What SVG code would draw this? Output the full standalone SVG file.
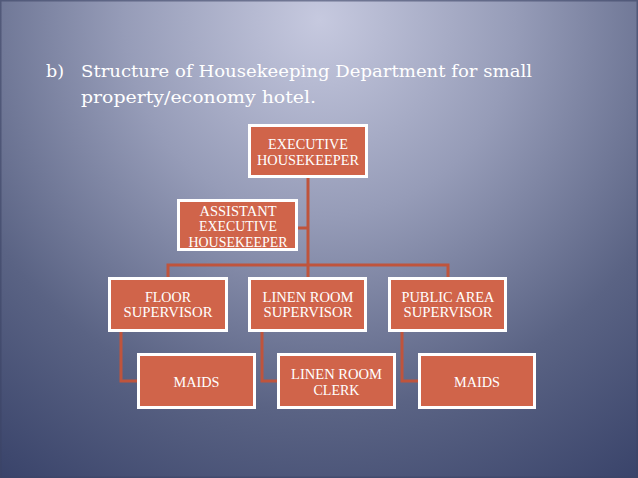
<svg xmlns="http://www.w3.org/2000/svg" width="638" height="478" viewBox="0 0 638 478">
  <defs>
    <radialGradient id="bg" cx="320" cy="20" r="560" gradientUnits="userSpaceOnUse">
      <stop offset="0" stop-color="#c6c9df"/>
      <stop offset="0.35" stop-color="#969cb8"/>
      <stop offset="0.7" stop-color="#5a6384"/>
      <stop offset="1" stop-color="#39436a"/>
    </radialGradient>
    <style>
      .box { fill: #d0644a; stroke: #ffffff; stroke-width: 3; }
      .lbl { font-family: "Liberation Serif", serif; font-size: 15px; fill: #ffffff; text-anchor: middle; }
      .conn { fill: none; stroke: #bf543c; stroke-width: 3; }
      .title { font-family: "DejaVu Serif", serif; font-size: 17.5px; fill: #ffffff; }
    </style>
  </defs>
  <rect x="0" y="0" width="638" height="478" fill="url(#bg)"/>
  <rect x="0.5" y="0.5" width="637" height="477" fill="none" stroke="#3c4566" stroke-width="2" opacity="0.6"/>

  <g id="title">
    <text class="title" x="46" y="77">b)</text>
    <text class="title" x="81" y="77" textLength="451" lengthAdjust="spacingAndGlyphs">Structure of Housekeeping Department for small</text>
    <text class="title" x="81" y="103" textLength="235" lengthAdjust="spacingAndGlyphs">property/economy hotel.</text>
  </g>

  <g id="connectors">
    <path class="conn" d="M308 178 V265"/>
    <path class="conn" d="M298 228 H308"/>
    <path class="conn" d="M168 278 V265 H448 V278"/>
    <path class="conn" d="M308 265 V278"/>
    <path class="conn" d="M121 332 V381 H137"/>
    <path class="conn" d="M262 332 V381 H277"/>
    <path class="conn" d="M402 332 V381 H418"/>
  </g>

  <g id="exec">
    <rect class="box" x="249.5" y="125.5" width="117" height="51"/>
    <text class="lbl" x="308" y="149" textLength="80" lengthAdjust="spacingAndGlyphs">EXECUTIVE</text>
    <text class="lbl" x="308" y="164.5" textLength="102" lengthAdjust="spacingAndGlyphs">HOUSEKEEPER</text>
  </g>
  <g id="assistant">
    <rect class="box" x="178.5" y="200.5" width="118" height="49"/>
    <text class="lbl" x="238" y="215.5" textLength="77" lengthAdjust="spacingAndGlyphs">ASSISTANT</text>
    <text class="lbl" x="238" y="231" textLength="78" lengthAdjust="spacingAndGlyphs">EXECUTIVE</text>
    <text class="lbl" x="238" y="246.5" textLength="99" lengthAdjust="spacingAndGlyphs">HOUSEKEEPER</text>
  </g>
  <g id="floor-sup">
    <rect class="box" x="109.5" y="278.5" width="117" height="52"/>
    <text class="lbl" x="168" y="301.5" textLength="46" lengthAdjust="spacingAndGlyphs">FLOOR</text>
    <text class="lbl" x="168" y="317" textLength="89" lengthAdjust="spacingAndGlyphs">SUPERVISOR</text>
  </g>
  <g id="linen-sup">
    <rect class="box" x="249.5" y="278.5" width="116" height="52"/>
    <text class="lbl" x="308" y="301.5" textLength="91" lengthAdjust="spacingAndGlyphs">LINEN ROOM</text>
    <text class="lbl" x="308" y="317" textLength="89" lengthAdjust="spacingAndGlyphs">SUPERVISOR</text>
  </g>
  <g id="public-sup">
    <rect class="box" x="389.5" y="278.5" width="116" height="52"/>
    <text class="lbl" x="448" y="301.5" textLength="93" lengthAdjust="spacingAndGlyphs">PUBLIC AREA</text>
    <text class="lbl" x="448" y="317" textLength="89" lengthAdjust="spacingAndGlyphs">SUPERVISOR</text>
  </g>
  <g id="maids-1">
    <rect class="box" x="138.5" y="354.5" width="116" height="53"/>
    <text class="lbl" x="196.5" y="386.5" textLength="46" lengthAdjust="spacingAndGlyphs">MAIDS</text>
  </g>
  <g id="linen-clerk">
    <rect class="box" x="278.5" y="354.5" width="116" height="53"/>
    <text class="lbl" x="336.5" y="379" textLength="91" lengthAdjust="spacingAndGlyphs">LINEN ROOM</text>
    <text class="lbl" x="336.5" y="394.5" textLength="46" lengthAdjust="spacingAndGlyphs">CLERK</text>
  </g>
  <g id="maids-2">
    <rect class="box" x="419.5" y="354.5" width="115" height="53"/>
    <text class="lbl" x="477" y="386.5" textLength="46" lengthAdjust="spacingAndGlyphs">MAIDS</text>
  </g>
</svg>
